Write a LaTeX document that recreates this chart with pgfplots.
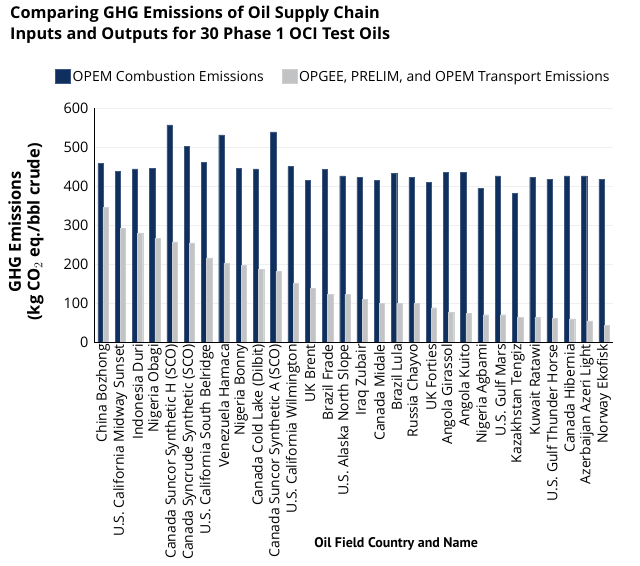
\documentclass[border=0pt]{standalone}
\usepackage{pgfplots}
\pgfplotsset{compat=1.18}
\usepackage{fontspec}
\setmainfont{Open Sans}
\newfontfamily\ptsans{PT Sans}
\definecolor{navy}{HTML}{0F2F5E}
\definecolor{lgray}{HTML}{C2C3C5}
\definecolor{gridc}{HTML}{EFEFEF}
\pgfplotstableread{
x dark gray
0 458 345
1 438 292
2 444 280
3 446 266
4 557 257
5 501 254
6 461 216
7 531 202
8 446 196
9 444 187
10 539 181
11 450 150
12 415 138
13 443 123
14 426 123
15 422 109
16 415 99
17 432 99
18 422 99
19 409 88
20 435 76
21 435 73
22 394 70
23 426 70
24 382 64
25 422 64
26 417 61
27 426 59
28 426 54
29 417 42
}\datatable
\begin{document}
\begin{tikzpicture}
\path[use as bounding box] (0,0) rectangle (640bp,566bp);
\node[anchor=north west, align=left, inner sep=0pt, font=\bfseries\fontsize{16.3}{21}\selectfont] at (10bp,560bp)
{Comparing GHG Emissions of Oil Supply Chain\\Inputs and Outputs for 30 Phase 1 OCI Test Oils};
\begin{axis}[
  at={(94bp,224bp)}, anchor=south west,
  scale only axis, width=519bp, height=234bp,
  xmin=-0.52, xmax=29.52, ymin=0, ymax=600,
  ybar=0pt, bar width=5.2bp,
  ytick={0,100,...,600},
  ymajorgrids, grid style={color=gridc, line width=0.8pt},
  axis x line*=bottom, axis y line*=left,
  axis line style={black, line width=0.8pt},
  major tick length=0pt,
  xtick={0,...,29},
  xticklabels={China Bozhong, U.S. California Midway Sunset, Indonesia Duri, Nigeria Obagi, Canada Suncor Synthetic H (SCO), Canada Syncrude Synthetic (SCO), U.S. California South Belridge, Venezuela Hamaca, Nigeria Bonny, Canada Cold Lake (Dilbit), Canada Suncor Synthetic A (SCO), U.S. California Wilmington, UK Brent, Brazil Frade, U.S. Alaska North Slope, Iraq Zubair, Canada Midale, Brazil Lula, Russia Chayvo, UK Forties, Angola Girassol, Angola Kuito, Nigeria Agbami, U.S. Gulf Mars, Kazakhstan Tengiz, Kuwait Ratawi, U.S. Gulf Thunder Horse, Canada Hibernia, Azerbaijan Azeri Light, Norway Ekofisk},
  x tick label style={rotate=90, anchor=east, font=\fontsize{14}{15}\selectfont, inner sep=2bp},
  y tick label style={font=\fontsize{14.5}{17}\selectfont, xshift=-2bp},
  /pgf/number format/assume math mode=true,
  ylabel={GHG Emissions\\(kg CO$_2$ eq./bbl crude)},
  every axis y label/.style={at={(axis description cs:-0.131,0.47)}, rotate=90, anchor=center, align=center, font=\bfseries\fontsize{16.5}{19}\selectfont},
  xlabel={Oil Field Country and Name},
  every axis x label/.style={at={(axis description cs:0.582,-0.865)}, anchor=center, font=\ptsans\bfseries\fontsize{14}{17}\selectfont},
  legend columns=2,
  legend style={at={(axis description cs:0.4615,1.132)}, anchor=center, draw=none, fill=none, font=\fontsize{14}{16}\selectfont, /tikz/every even column/.append style={column sep=16bp}},
  legend image code/.code={\fill[#1] (0bp,-6bp) rectangle (15bp,8bp);},
]
\addplot[fill=navy, draw=navy!80!white, line width=0.3pt] table[x=x, y=dark] {\datatable};
\addlegendentry{OPEM Combustion Emissions}
\addplot[fill=lgray, draw=lgray!80!white, line width=0.3pt] table[x=x, y=gray] {\datatable};
\addlegendentry{OPGEE, PRELIM, and OPEM Transport Emissions}
\end{axis}
\end{tikzpicture}
\end{document}
